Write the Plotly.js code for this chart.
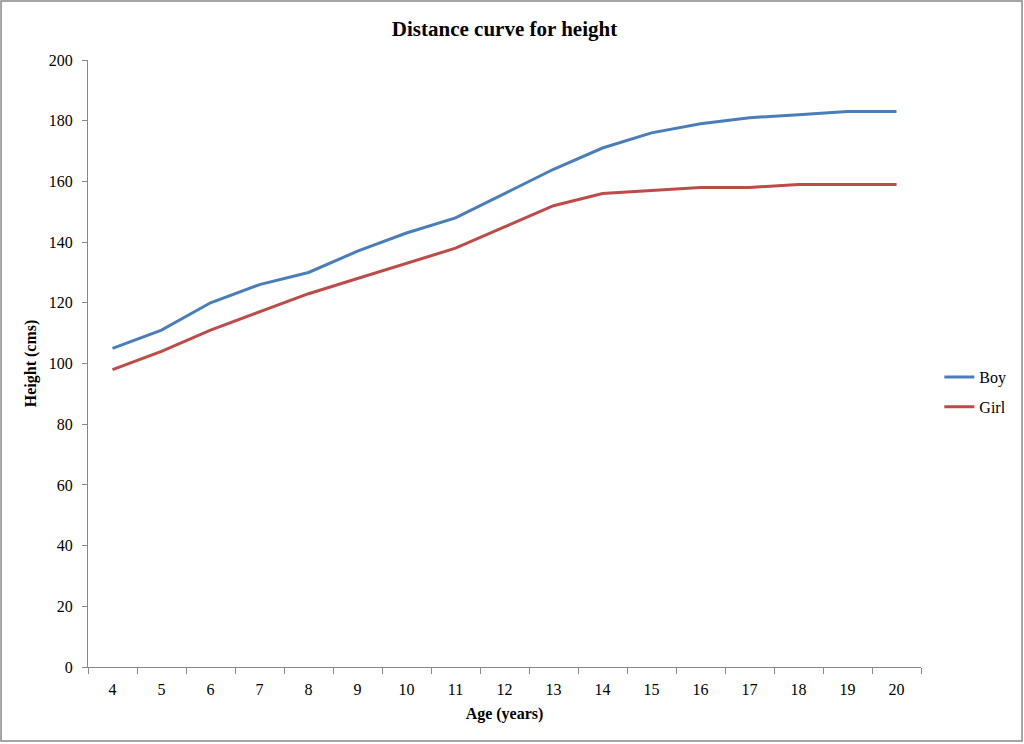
<!DOCTYPE html>
<html>
<head>
<meta charset="utf-8">
<script src="https://cdn.plot.ly/plotly-3.0.1.min.js"></script>
<style>html,body{margin:0;padding:0;background:#fff;}#chart{width:1024px;height:744px;}</style>
</head>
<body>
<div id="chart"></div>
<script>
const ages = ["4","5","6","7","8","9","10","11","12","13","14","15","16","17","18","19","20"];
const boy = [105,111,120,126,130,137,143,148,156,164,171,176,179,181,182,183,183];
const girl = [98,104,111,117,123,128,133,138,145,152,156,157,158,158,159,159,159];
const yTicks = [0,20,40,60,80,100,120,140,160,180,200];

const font = {family: '"Liberation Serif", "Times New Roman", serif', color: '#000'};
const traces = [
  {x: ages, y: boy, name: 'Boy', legendgroup: 'a', type: 'scatter', mode: 'lines', line: {color: '#4a7ebb', width: 3}},
  {x: ages, y: girl, name: 'Girl', legendgroup: 'b', type: 'scatter', mode: 'lines', line: {color: '#be4b48', width: 3}}
];
const layout = {
  width: 1024, height: 744,
  margin: {l: 88, r: 103, t: 60, b: 77},
  paper_bgcolor: '#fff', plot_bgcolor: '#fff',
  font: Object.assign({size: 16}, font),
  title: {text: '<b>Distance curve for height</b>', font: Object.assign({size: 21}, font), x: 0.5, xref: 'paper', y: 0.962, yanchor: 'middle'},
  xaxis: {
    type: 'category', range: [-0.5, 16.5], tickson: 'boundaries', ticks: 'outside', ticklen: 6, tickcolor: '#888',
    ticklabelstandoff: 8,
    showline: true, linecolor: '#888', linewidth: 1, showgrid: false, zeroline: false,
    tickfont: Object.assign({size: 16}, font),
    title: {text: '<b>Age (years)</b>', font: Object.assign({size: 16}, font), standoff: 10}
  },
  yaxis: {
    range: [0, 200], tickvals: yTicks, ticks: 'outside', ticklen: 5, tickcolor: '#888',
    ticklabelstandoff: 6,
    showline: true, linecolor: '#888', linewidth: 1, showgrid: false, zeroline: false,
    tickfont: Object.assign({size: 16}, font),
    title: {text: '<b>Height (cms)</b>', font: Object.assign({size: 16}, font), standoff: 8}
  },
  legend: {x: 1.022, xanchor: 'left', y: 0.453, yanchor: 'middle', traceorder: 'grouped', font: Object.assign({size: 16}, font), bgcolor: 'rgba(0,0,0,0)', tracegroupgap: 6},
  showlegend: true,
  shapes: [{type: 'rect', xref: 'paper', yref: 'paper', x0: -0.1044, x1: 1.1213, y0: -0.122, y1: 1.097, line: {color: '#888', width: 1.5}}]
};
Plotly.newPlot('chart', traces, layout, {displayModeBar: false, staticPlot: true});
</script>
</body>
</html>
